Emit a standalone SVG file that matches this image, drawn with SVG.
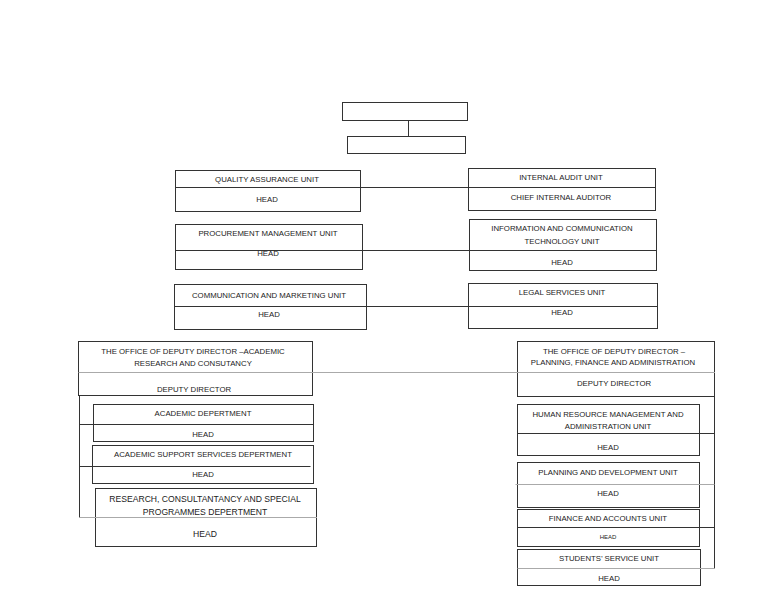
<svg xmlns="http://www.w3.org/2000/svg" width="768" height="594" viewBox="0 0 768 594">
<style>
.b{fill:#fff;stroke:#333;stroke-width:1}
.d{stroke:#333;stroke-width:1}
.g{stroke:#aaa;stroke-width:1}
.c{fill:none;stroke:#333;stroke-width:1}
.cg{fill:none;stroke:#aaa;stroke-width:1}
text{font-family:"Liberation Sans",Arial,sans-serif;font-size:7.8px;fill:#222;text-anchor:middle}
.l{font-size:8.6px}
.s{font-size:6px}
</style>
<rect width="768" height="594" fill="#fff"/>
<g id="top1"><rect class="b" x="342.5" y="102.5" width="125" height="18"/></g>
<g id="top2"><rect class="b" x="347.5" y="136.5" width="118" height="17"/></g>

<g id="qa"><rect class="b" x="175.5" y="170.5" width="185" height="41"/><line class="d" x1="175.5" y1="187.5" x2="360.5" y2="187.5"/>
<text x="267" y="182">QUALITY ASSURANCE UNIT</text><text x="267" y="202">HEAD</text></g>

<g id="procurement"><rect class="b" x="175.5" y="224.5" width="187" height="45"/><line class="d" x1="175.5" y1="250.5" x2="362.5" y2="250.5"/>
<text x="268" y="235.5">PROCUREMENT MANAGEMENT UNIT</text><text x="268" y="256">HEAD</text></g>

<g id="comm"><rect class="b" x="174.5" y="284.5" width="192" height="45"/><line class="d" x1="174.5" y1="306.5" x2="366.5" y2="306.5"/>
<text x="269" y="297.5">COMMUNICATION AND MARKETING UNIT</text><text x="269" y="317">HEAD</text></g>

<g id="audit"><rect class="b" x="468.5" y="168.5" width="187" height="42"/><line class="d" x1="468.5" y1="187.5" x2="655.5" y2="187.5"/>
<text x="561" y="179.5">INTERNAL AUDIT UNIT</text><text x="561" y="199.5">CHIEF INTERNAL AUDITOR</text></g>

<g id="ict"><rect class="b" x="469.5" y="219.5" width="187" height="51"/><line class="d" x1="469.5" y1="250.5" x2="656.5" y2="250.5"/>
<text x="562" y="231">INFORMATION AND COMMUNICATION</text><text x="562" y="244">TECHNOLOGY UNIT</text><text x="562" y="265">HEAD</text></g>

<g id="legal"><rect class="b" x="468.5" y="283.5" width="189" height="45"/><line class="d" x1="468.5" y1="306.5" x2="657.5" y2="306.5"/>
<text x="562" y="294.5">LEGAL SERVICES UNIT</text><text x="562" y="314.5">HEAD</text></g>

<g id="dd-academic"><rect class="b" x="78.5" y="341.5" width="234" height="54"/>
<text x="193" y="353.5">THE OFFICE OF DEPUTY DIRECTOR –ACADEMIC</text><text x="193" y="366">RESEARCH AND CONSUTANCY</text><text x="194" y="391.5">DEPUTY DIRECTOR</text></g>

<g id="dd-planning"><rect class="b" x="517.5" y="341.5" width="197" height="55"/>
<text x="614" y="353.5">THE OFFICE OF DEPUTY DIRECTOR –</text><text x="613" y="365">PLANNING, FINANCE AND ADMINISTRATION</text><text x="614" y="386">DEPUTY DIRECTOR</text></g>

<g id="academic-dept"><rect class="b" x="93.5" y="404.5" width="220" height="37"/><line class="d" x1="93.5" y1="424.5" x2="313.5" y2="424.5"/>
<text x="203" y="415.5">ACADEMIC DEPERTMENT</text><text x="203" y="437">HEAD</text></g>

<g id="academic-support"><rect class="b" x="92.5" y="445.5" width="221" height="38"/>
<text x="203" y="457">ACADEMIC SUPPORT SERVICES DEPERTMENT</text><text x="203" y="477">HEAD</text></g>

<g id="research"><rect class="b" x="95.5" y="488.5" width="221" height="58"/>
<text class="l" x="205" y="502">RESEARCH, CONSULTANTANCY AND SPECIAL</text><text class="l" x="205" y="514.5">PROGRAMMES DEPERTMENT</text><text class="l" x="205" y="537">HEAD</text></g>

<g id="hrm"><rect class="b" x="517.5" y="404.5" width="182" height="51"/>
<text x="608" y="417">HUMAN RESOURCE MANAGEMENT AND</text><text x="608" y="428.5">ADMINISTRATION UNIT</text><text x="608" y="450">HEAD</text></g>

<g id="planning"><rect class="b" x="517.5" y="462.5" width="182" height="45"/>
<text x="608" y="475">PLANNING AND DEVELOPMENT UNIT</text><text x="608" y="496">HEAD</text></g>

<g id="finance"><rect class="b" x="517.5" y="509.5" width="182" height="37"/>
<text x="608" y="520.5">FINANCE AND ACCOUNTS UNIT</text><text class="s" x="608" y="539">HEAD</text></g>

<g id="students"><rect class="b" x="517.5" y="549.5" width="183" height="36"/>
<text x="609" y="560.5">STUDENTS’ SERVICE UNIT</text><text x="609" y="581">HEAD</text></g>

<g id="connectors">
<path class="c" d="M408.5 120.5V136.5"/>
<path class="c" d="M360.5 187.5H468.5"/>
<path class="c" d="M362.5 250.5H469.5"/>
<path class="c" d="M366.5 306.5H468.5"/>
<path class="cg" d="M78.5 372.5H715"/>
<path class="c" d="M79.5 395.5V517.5"/>
<path class="c" d="M79.5 424.5H93.5"/>
<path class="c" d="M79.5 466.5H310.5"/>
<path class="cg" d="M79.5 517.5H317"/>
<path class="c" d="M714.5 396.5V568.5"/>
<path class="c" d="M517.5 433.5H714.5"/>
<path class="cg" d="M515.5 484.5H714.5"/>
<path class="c" d="M517.5 527.5H714.5"/>
<path class="cg" d="M517.5 568.5H714.5"/>
</g>
</svg>
